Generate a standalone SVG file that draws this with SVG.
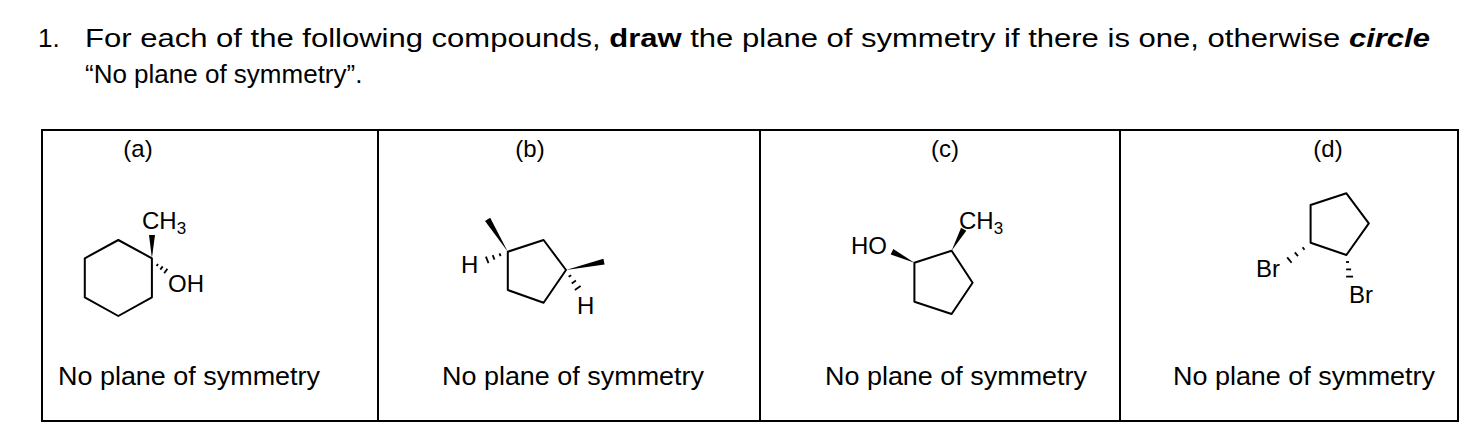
<svg xmlns="http://www.w3.org/2000/svg" width="1478" height="448" viewBox="0 0 1478 448">
<style>
text{font-family:"Liberation Sans",Arial,sans-serif;fill:#000}
.t{font-size:26px}
.lab{font-size:24px}
.nl{font-size:25px}
.at{font-size:24px}
.sub{font-size:17px}
.b{fill:none;stroke:#000;stroke-width:2;stroke-linejoin:round}
.h{stroke:#000;stroke-width:1.8}
.frame{fill:none;stroke:#000;stroke-width:2}
</style>
<rect width="1478" height="448" fill="#fff"/>
<g id="title">
<text class="t" x="38" y="47">1.</text>
<text class="t" x="85" y="47" textLength="1345" lengthAdjust="spacingAndGlyphs">For each of the following compounds, <tspan font-weight="bold">draw</tspan> the plane of symmetry if there is one, otherwise <tspan font-weight="bold" font-style="italic">circle</tspan></text>
<text class="t" x="85" y="83">“No plane of symmetry”.</text>
</g>
<g id="frame" class="frame">
<rect x="42" y="130" width="1416" height="291"/>
<line x1="378" y1="130" x2="378" y2="421"/>
<line x1="760" y1="130" x2="760" y2="421"/>
<line x1="1120" y1="130" x2="1120" y2="421"/>
</g>
<g id="a">
<text class="lab" x="138" y="157" text-anchor="middle">(a)</text>
<polygon class="b" points="118.3,240 151.9,258.3 151.9,297.3 118.3,316 84.8,297.3 84.8,258.3"/>
<polygon points="151.9,258.3 149,235 155,235"/>
<g class="h"><line x1="156.6" y1="266" x2="158" y2="264"/><line x1="160.3" y1="269.6" x2="162.7" y2="266.4"/><line x1="164.2" y1="273.3" x2="167.4" y2="268.7"/></g>
<text class="at" x="142" y="229">CH<tspan class="sub" dy="5">3</tspan></text>
<text class="at" x="168" y="292">OH</text>
<text class="nl" x="189" y="385" text-anchor="middle" textLength="262" lengthAdjust="spacingAndGlyphs">No plane of symmetry</text>
</g>
<g id="b">
<text class="lab" x="530" y="157" text-anchor="middle">(b)</text>
<polygon class="b" points="507.8,251.7 543.6,240 566,270 543.6,302.7 507.8,290"/>
<polygon points="507.8,251.7 490.2,217.7 485,220.9"/>
<polygon points="566,270 604.6,264.6 603.4,258.8"/>
<g class="h"><line x1="499.5" y1="253.4" x2="500.6" y2="256.2"/><line x1="492.7" y1="255.1" x2="494.5" y2="259.7"/><line x1="485.9" y1="256.6" x2="488.5" y2="263.2"/>
<line x1="568.6" y1="276.8" x2="571.2" y2="275.2"/><line x1="571.7" y1="283.4" x2="575.9" y2="280.6"/><line x1="574.8" y1="289.9" x2="580.6" y2="286.1"/></g>
<text class="at" x="461" y="273">H</text>
<text class="at" x="577" y="314">H</text>
<text class="nl" x="573" y="385" text-anchor="middle" textLength="262" lengthAdjust="spacingAndGlyphs">No plane of symmetry</text>
</g>
<g id="c">
<text class="lab" x="945" y="157" text-anchor="middle">(c)</text>
<polygon class="b" points="914.4,262.7 951.6,250.7 972.6,282.7 951.6,314 914.4,301.7"/>
<polygon points="914.4,262.7 893.3,249 890.7,254.4"/>
<polygon points="951.6,250.7 966.3,230.8 961.1,227.8"/>
<text class="at" x="851" y="254">HO</text>
<text class="at" x="959" y="229">CH<tspan class="sub" dy="5">3</tspan></text>
<text class="nl" x="956" y="385" text-anchor="middle" textLength="262" lengthAdjust="spacingAndGlyphs">No plane of symmetry</text>
</g>
<g id="d">
<text class="lab" x="1328" y="157" text-anchor="middle">(d)</text>
<polygon class="b" points="1346.4,193.3 1368.8,223.3 1346.4,255 1310.6,242.7 1310.6,205"/>
<g class="h"><line x1="1302.6" y1="247.3" x2="1304.5" y2="249.7"/><line x1="1294.8" y1="252.4" x2="1298" y2="256.2"/><line x1="1287.2" y1="257.4" x2="1291.6" y2="262.8"/>
<line x1="1346" y1="262" x2="1349" y2="262"/><line x1="1346.1" y1="269.4" x2="1351.1" y2="269.4"/><line x1="1346.1" y1="276.6" x2="1353.1" y2="276.6"/></g>
<text class="at" x="1256" y="277">Br</text>
<text class="at" x="1349" y="303">Br</text>
<text class="nl" x="1304" y="385" text-anchor="middle" textLength="262" lengthAdjust="spacingAndGlyphs">No plane of symmetry</text>
</g>
</svg>
